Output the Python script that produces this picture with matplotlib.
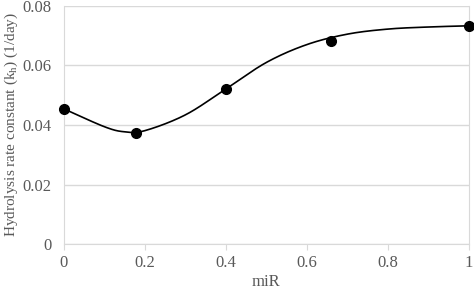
import numpy as np
import matplotlib.pyplot as plt

plt.rcParams['font.family'] = ['Liberation Serif', 'DejaVu Serif']
plt.rcParams['mathtext.fontset'] = 'custom'
plt.rcParams['mathtext.rm'] = 'Liberation Serif'

# measured points
mir = [0.0, 0.178, 0.40, 0.66, 1.0]
kh = [0.0454, 0.0373, 0.0521, 0.0682, 0.0733]

# fitted curve
fit_x = [0.0, 0.1, 0.15, 0.2, 0.3, 0.4, 0.5, 0.6, 0.7, 0.8, 0.9, 1.0]
fit_y = [0.0454, 0.0394, 0.0377, 0.0381, 0.0434, 0.0521, 0.0610, 0.0670, 0.0705, 0.0722, 0.0729, 0.0733]


def smooth_line(x, y, n=40):
    # Excel-style smoothed line: cubic Bezier segments through the points
    x = np.asarray(x, float)
    y = np.asarray(y, float)
    px, py = [], []
    t = np.linspace(0, 1, n)
    for i in range(len(x) - 1):
        x0, y0 = x[i], y[i]
        x3, y3 = x[i + 1], y[i + 1]
        xa, ya = (x[i - 1], y[i - 1]) if i > 0 else (x0, y0)
        xb, yb = (x[i + 2], y[i + 2]) if i + 2 < len(x) else (x3, y3)
        x1 = x0 + (x3 - xa) / 6
        y1 = y0 + (y3 - ya) / 6
        x2 = x3 - (xb - x0) / 6
        y2 = y3 - (yb - y0) / 6
        bx = (1 - t) ** 3 * x0 + 3 * (1 - t) ** 2 * t * x1 + 3 * (1 - t) * t ** 2 * x2 + t ** 3 * x3
        by = (1 - t) ** 3 * y0 + 3 * (1 - t) ** 2 * t * y1 + 3 * (1 - t) * t ** 2 * y2 + t ** 3 * y3
        px.extend(bx)
        py.extend(by)
    return px, py


xs, ys = smooth_line(fit_x, fit_y)

fig = plt.figure(figsize=(4.74, 2.93), dpi=100)
ax = fig.add_axes([0.135, 0.167, 0.854, 0.813])

ax.plot(xs, ys, color='black', lw=1.2, zorder=3, clip_on=False)
ax.plot(mir, kh, 'o', color='black', ms=7, zorder=4, clip_on=False)

ax.set_xlim(0, 1)
ax.set_ylim(0, 0.08)
ax.set_xticks([0, 0.2, 0.4, 0.6, 0.8, 1])
ax.set_xticklabels(['0', '0.2', '0.4', '0.6', '0.8', '1'])
ax.set_yticks([0, 0.02, 0.04, 0.06, 0.08])
ax.set_yticklabels(['0', '0.02', '0.04', '0.06', '0.08'])

ax.grid(axis='y', color='#d9d9d9', lw=1)
ax.set_axisbelow(True)
for s in ['left', 'right', 'bottom']:
    ax.spines[s].set_color('#d9d9d9')
ax.spines['top'].set_visible(False)
ax.tick_params(axis='y', length=0, labelsize=12, colors='#595959', pad=9)
ax.tick_params(axis='x', length=4, color='#d9d9d9', labelsize=12, labelcolor='#595959', pad=4)

ax.set_xlabel('miR', fontsize=12, color='#595959', labelpad=2)
ax.set_ylabel(r'Hydrolysis rate constant (k$_\mathregular{h}$) (1/day)', fontsize=11, color='#595959', labelpad=2)

fig.savefig('out.png', dpi=100)
